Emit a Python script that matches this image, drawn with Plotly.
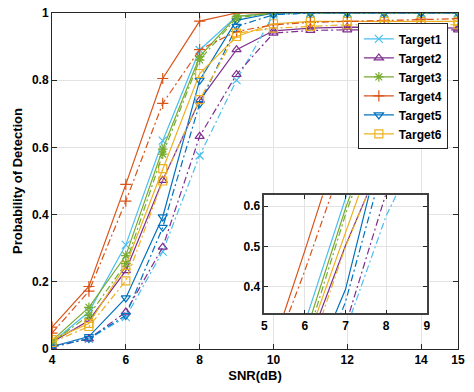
import plotly.graph_objects as go

snr = [4, 5, 6, 7, 8, 9, 10, 11, 12, 13, 14, 15]

names = ["Target1", "Target2", "Target3", "Target4", "Target5", "Target6"]
colors = ["#4DBEEE", "#7E2F8E", "#77AC30", "#D95319", "#0072BD", "#EDB120"]
symbols = ["x-thin-open", "triangle-up-open", "asterisk-open", "cross-thin-open",
           "triangle-down-open", "square-open"]

# solid curves
t1_a = [0.02, 0.11, 0.31, 0.62, 0.89, 0.99, 1.0, 1.0, 1.0, 1.0, 1.0, 1.0]
t2_a = [0.02, 0.085, 0.233, 0.502, 0.74, 0.891, 0.947, 0.955, 0.958, 0.958, 0.957, 0.955]
t3_a = [0.025, 0.124, 0.278, 0.595, 0.87, 0.99, 1.0, 1.0, 1.0, 1.0, 1.0, 1.0]
t4_a = [0.065, 0.186, 0.49, 0.805, 0.976, 1.0, 1.0, 1.0, 1.0, 1.0, 1.0, 1.0]
t5_a = [0.007, 0.037, 0.152, 0.393, 0.80, 0.978, 1.0, 1.0, 1.0, 1.0, 1.0, 1.0]
t6_a = [0.028, 0.076, 0.249, 0.537, 0.82, 0.93, 0.968, 0.975, 0.975, 0.975, 0.975, 0.975]

# dash-dot curves
t1_b = [0.01, 0.03, 0.095, 0.29, 0.576, 0.80, 0.995, 1.0, 1.0, 1.0, 1.0, 1.0]
t2_b = [0.008, 0.03, 0.11, 0.303, 0.633, 0.817, 0.94, 0.948, 0.95, 0.95, 0.95, 0.95]
t3_b = [0.02, 0.10, 0.254, 0.58, 0.86, 0.985, 1.0, 1.0, 1.0, 1.0, 1.0, 1.0]
t4_b = [0.047, 0.172, 0.44, 0.731, 0.891, 0.945, 0.965, 0.972, 0.975, 0.978, 0.982, 0.983]
t5_b = [0.005, 0.031, 0.10, 0.362, 0.73, 0.96, 0.995, 1.0, 1.0, 1.0, 1.0, 1.0]
t6_b = [0.02, 0.067, 0.203, 0.50, 0.742, 0.94, 0.955, 0.96, 0.965, 0.965, 0.965, 0.965]

solid = [t1_a, t2_a, t3_a, t4_a, t5_a, t6_a]
dashed = [t1_b, t2_b, t3_b, t4_b, t5_b, t6_b]

x_ticks = [4, 6, 8, 10, 12, 14, 15]
y_ticks = [0, 0.2, 0.4, 0.6, 0.8, 1.0]
y_ticktext = ["0", "0.2", "0.4", "0.6", "0.8", "1"]
inset_x_ticks = [5, 6, 7, 8, 9]
inset_y_ticks = [0.4, 0.5, 0.6]

FONT = "Liberation Sans, Arial, sans-serif"
AX = "#262626"
DASHDOT = "7px,3px,2px,3px"

fig = go.Figure()

for i in range(6):
    fig.add_trace(go.Scatter(
        x=snr, y=solid[i], name=names[i], mode="lines+markers",
        line=dict(color=colors[i], width=1.2),
        marker=dict(symbol=symbols[i], size=8, color=colors[i],
                    line=dict(color=colors[i], width=1.2)),
        xaxis="x", yaxis="y"))
for i in range(6):
    fig.add_trace(go.Scatter(
        x=snr, y=dashed[i], name=names[i], mode="lines+markers", showlegend=False,
        line=dict(color=colors[i], width=1.2, dash=DASHDOT),
        marker=dict(symbol=symbols[i], size=8, color=colors[i],
                    line=dict(color=colors[i], width=1.2)),
        xaxis="x", yaxis="y"))

# inset
for i in range(6):
    fig.add_trace(go.Scatter(
        x=snr, y=solid[i], mode="lines", showlegend=False,
        line=dict(color=colors[i], width=1.2), xaxis="x2", yaxis="y2"))
    fig.add_trace(go.Scatter(
        x=snr, y=dashed[i], mode="lines", showlegend=False,
        line=dict(color=colors[i], width=1.2, dash=DASHDOT),
        xaxis="x2", yaxis="y2"))

tickfont = dict(family=FONT, size=12, color="#000000", weight="bold")

fig.update_layout(
    width=474, height=392,
    margin=dict(l=52, r=16, t=13, b=43),
    paper_bgcolor="white", plot_bgcolor="white",
    font=dict(family=FONT, size=12, color="#000000"),
    xaxis=dict(range=[4, 15], tickvals=x_ticks, showgrid=True, gridcolor="#e3e3e3",
               showline=True, linecolor=AX, linewidth=1, mirror="ticks",
               ticks="inside", ticklen=5, tickcolor=AX, zeroline=False,
               tickfont=tickfont, automargin=False,
               title=dict(text="SNR(dB)", font=dict(family=FONT, size=13, weight="bold"),
                          standoff=4)),
    yaxis=dict(range=[0, 1], tickvals=y_ticks, ticktext=y_ticktext, showgrid=True,
               gridcolor="#e3e3e3", showline=True, linecolor=AX, linewidth=1,
               mirror="ticks", ticks="inside", ticklen=5, tickcolor=AX, zeroline=False,
               tickfont=tickfont, automargin=False,
               title=dict(text="Probability of Detection",
                          font=dict(family=FONT, size=13, weight="bold"), standoff=6)),
    xaxis2=dict(domain=[0.523, 0.923], anchor="y2", range=[5, 9], tickvals=inset_x_ticks,
                showgrid=True, gridcolor="#e3e3e3", showline=True, linecolor="#404040",
                linewidth=1.5, mirror="ticks", ticks="inside", ticklen=4, tickcolor=AX,
                zeroline=False, tickfont=tickfont, automargin=False),
    yaxis2=dict(domain=[0.106, 0.457], anchor="x2", range=[0.333, 0.627],
                tickvals=inset_y_ticks, ticktext=["0.4", "0.5", "0.6"],
                showgrid=True, gridcolor="#e3e3e3", showline=True, linecolor="#404040",
                linewidth=1.5, mirror="ticks", ticks="inside", ticklen=4, tickcolor=AX,
                zeroline=False, tickfont=tickfont, automargin=False),
    legend=dict(x=0.975, xanchor="right", y=0.969, yanchor="top",
                bgcolor="white", bordercolor=AX, borderwidth=1,
                font=dict(family=FONT, size=12, color="#000000", weight="bold"),
                itemwidth=30, tracegroupgap=0),
    showlegend=True,
)

fig.write_html("out.html", config={"displayModeBar": False},
               post_script="document.body.style.margin='0';document.body.style.overflow='hidden';")
